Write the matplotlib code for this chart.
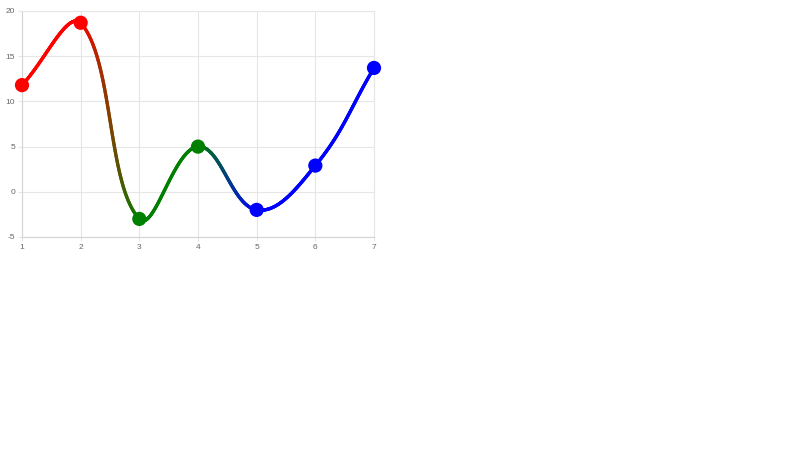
import numpy as np
import matplotlib
matplotlib.use('Agg')
import matplotlib.pyplot as plt
from matplotlib.collections import LineCollection
from matplotlib.colors import to_rgb

# Данные графика
x_values = [1, 2, 3, 4, 5, 6, 7]
y_values = [11.8, 18.7, -3.0, 5.0, -2.0, 2.9, 13.7]
point_colors = ['red', 'red', 'green', 'green', 'blue', 'blue', 'blue']
x_ticks = [1, 2, 3, 4, 5, 6, 7]
y_ticks = [-5, 0, 5, 10, 15, 20]

plt.rcParams['font.family'] = ['Liberation Sans', 'DejaVu Sans']
plt.rcParams['axes.unicode_minus'] = False

fig = plt.figure(figsize=(8, 4.5), dpi=100)
ax = fig.add_axes([22 / 800, 1 - 237 / 450, 352 / 800, 226 / 450])
ax.set_xlim(1, 7)
ax.set_ylim(-5, 20)

# Переводим точки в пиксели, чтобы кривая считалась как в Chart.js (tension 0.4)
pts = ax.transData.transform(np.column_stack([x_values, y_values]))
bbox = ax.bbox
tension = 0.4
n = len(pts)
ctrl_prev = pts.copy()
ctrl_next = pts.copy()
for i in range(n):
    p0 = pts[max(i - 1, 0)]
    p1 = pts[i]
    p2 = pts[min(i + 1, n - 1)]
    d01 = np.hypot(*(p1 - p0))
    d12 = np.hypot(*(p2 - p1))
    tot = d01 + d12
    s01 = d01 / tot if tot else 0
    s12 = d12 / tot if tot else 0
    ctrl_prev[i] = p1 - tension * s01 * (p2 - p0)
    ctrl_next[i] = p1 + tension * s12 * (p2 - p0)

# Ограничение контрольных точек областью графика
for c in (ctrl_prev, ctrl_next):
    c[:, 0] = np.clip(c[:, 0], bbox.x0, bbox.x1)
    c[:, 1] = np.clip(c[:, 1], bbox.y0, bbox.y1)

curve = []
t = np.linspace(0, 1, 120)[:, None]
for i in range(n - 1):
    a, b, c, d = pts[i], ctrl_next[i], ctrl_prev[i + 1], pts[i + 1]
    seg = (1 - t) ** 3 * a + 3 * (1 - t) ** 2 * t * b + 3 * (1 - t) * t ** 2 * c + t ** 3 * d
    curve.append(seg if i == 0 else seg[1:])
curve = np.vstack(curve)
curve = ax.transData.inverted().transform(curve)

# Градиент цвета по оси x между точками
stop_rgb = np.array([to_rgb(c) for c in point_colors])
cx = curve[:, 0]
cols = np.column_stack([np.interp(cx, x_values, stop_rgb[:, k]) for k in range(3)])
segs = np.stack([curve[:-1], curve[1:]], axis=1)
seg_cols = (cols[:-1] + cols[1:]) / 2
lc = LineCollection(segs, colors=seg_cols, linewidths=2.4, capstyle='round', zorder=3)
ax.add_collection(lc)

ax.scatter(x_values, y_values, c=point_colors, s=105, edgecolors='none', zorder=4, clip_on=False)

# Оси и сетка
ax.set_xticks(x_ticks)
ax.set_yticks(y_ticks)
ax.grid(True, color='#e6e6e6', linewidth=0.8)
ax.set_axisbelow(True)
ax.tick_params(colors='#e6e6e6', labelcolor='#666666', labelsize=6, length=3, width=0.8, pad=2)
for side in ('top', 'right'):
    ax.spines[side].set_color('#e6e6e6')
for side in ('left', 'bottom'):
    ax.spines[side].set_color('#d4d4d4')
for sp in ax.spines.values():
    sp.set_linewidth(0.8)

fig.savefig('out.png', dpi=100)
